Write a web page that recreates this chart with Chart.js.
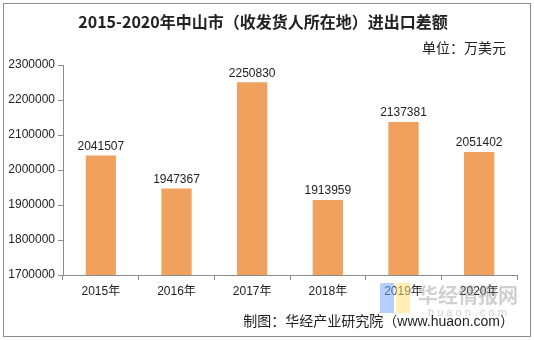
<!DOCTYPE html>
<html>
<head>
<meta charset="utf-8">
<title>中山市进出口差额</title>
<script src="https://cdn.jsdelivr.net/npm/chart.js"></script>
<style>
  html, body { margin: 0; padding: 0; background: #fff; }
  #wrap { width: 534px; height: 340px; position: relative; }
</style>
</head>
<body>
<div id="wrap"><canvas id="myChart"></canvas></div>
<script>
// data
var years = ['2015年', '2016年', '2017年', '2018年', '2019年', '2020年'];
var balance = [2041507, 1947367, 2250830, 1913959, 2137381, 2051402];
var yTicks = [1700000, 1800000, 1900000, 2000000, 2100000, 2200000, 2300000];

var titleText = '2015-2020年中山市（收发货人所在地）进出口差额';
var unitText = '单位：万美元';
var sourceText = '制图：华经产业研究院（www.huaon.com）';

var sans = '"Liberation Sans", Arial, sans-serif';
var cjk = '"Noto Sans CJK SC", "Liberation Sans", sans-serif';
var mixed = '"Liberation Sans", "Noto Sans CJK SC", sans-serif';

// texts, frame, labels over bars
var decor = {
    id: 'decor',
    beforeDraw: function(chart) {
        var c = chart.ctx;
        c.save();
        c.fillStyle = '#fff';
        c.fillRect(0, 0, chart.width, chart.height);
        c.restore();
    },
    afterDraw: function(chart) {
        var c = chart.ctx;
        c.save();
        c.strokeStyle = '#8c8c8c';
        c.lineWidth = 1;
        c.strokeRect(3.5, 3.5, 527, 333);

        c.fillStyle = '#222';
        c.font = 'bold 16px ' + cjk;
        c.textAlign = 'center';
        c.textBaseline = 'middle';
        c.fillText(titleText, 263, 22);

        c.font = '14px ' + cjk;
        c.textAlign = 'right';
        c.fillText(unitText, 506, 48);

        // watermark
        c.fillStyle = 'rgba(120,170,255,0.55)';
        c.fillRect(380, 283, 14, 30);
        c.fillStyle = 'rgba(255,225,120,0.55)';
        c.fillRect(396, 283, 14, 30);
        c.fillStyle = 'rgba(150,150,150,0.45)';
        c.font = 'bold 20px ' + cjk;
        c.textAlign = 'left';
        c.fillText('华经情报网', 418, 295);
        c.font = '11px ' + sans;
        c.fillText('h u a o n . c o m', 428, 313);

        c.fillStyle = '#222';
        c.font = '14px ' + mixed;
        c.textAlign = 'right';
        c.fillText(sourceText, 514, 322);

        // value labels
        var meta = chart.getDatasetMeta(0);
        c.font = '12px ' + sans;
        c.textAlign = 'center';
        c.fillStyle = '#222';
        meta.data.forEach(function(bar, i) {
            c.fillText(String(balance[i]), bar.x, bar.y - 9);
        });
        c.restore();
    }
};

var myChart = new Chart(document.getElementById('myChart'), {
    type: 'bar',
    data: {
        labels: years,
        datasets: [{
            data: balance,
            backgroundColor: 'rgb(240,161,94)',
            borderWidth: 0,
            categoryPercentage: 1,
            barPercentage: 0.4
        }]
    },
    options: {
        responsive: true,
        maintainAspectRatio: false,
        animation: false,
        layout: { padding: { top: 65, right: 17, left: 0, bottom: 0 } },
        plugins: {
            legend: { display: false },
            tooltip: { enabled: false }
        },
        scales: {
            x: {
                afterFit: function(s) { s.height = 65; },
                grid: {
                    offset: true,
                    drawOnChartArea: false,
                    tickLength: 5,
                    color: '#8c8c8c'
                },
                border: { color: '#8c8c8c' },
                ticks: {
                    color: '#222',
                    font: { size: 12, family: mixed },
                    padding: 4,
                    maxRotation: 0
                }
            },
            y: {
                min: 1700000,
                max: 2300000,
                afterFit: function(s) { s.width = 63; },
                afterBuildTicks: function(s) {
                    s.ticks = yTicks.map(function(v) { return { value: v }; });
                },
                grid: {
                    drawOnChartArea: false,
                    tickLength: 5,
                    color: '#8c8c8c'
                },
                border: { color: '#8c8c8c' },
                ticks: {
                    color: '#222',
                    font: { size: 12, family: sans },
                    padding: 3,
                    callback: function(v) { return String(v); }
                }
            }
        }
    },
    plugins: [decor]
});
</script>
</body>
</html>
